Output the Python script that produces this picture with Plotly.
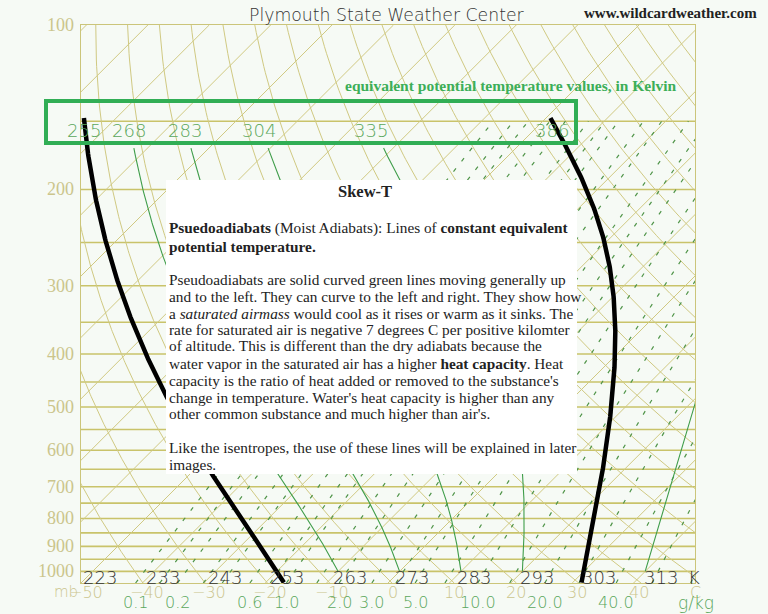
import numpy as np
import plotly.graph_objects as go

# skew-T geometry: x = T(C) + SKEW*log10(1050/p), y = log10(p)
SKEW = 89.0
P_BOT = 1050
P_TOP = 100

isobars = [150, 200, 250, 300, 350, 400, 450, 500, 550, 600, 650, 700,
           750, 800, 850, 900, 950, 1000]
pressure_labels = [100, 200, 300, 400, 500, 600, 700, 800, 900, 1000]
isotherms = [-140, -130, -120, -110, -100, -90, -80, -70, -60, -50, -40,
             -30, -20, -10, 0, 10, 20, 30, 40, 50]
dry_theta = [200, 210, 220, 230, 240, 250, 260, 270, 280, 290, 300, 310,
             320, 330, 340, 350, 360, 370, 380, 390, 400, 410, 420, 430,
             440, 450, 460, 470]
mixing_ratios = [0.1, 0.15, 0.2, 0.3, 0.4, 0.6, 0.8, 1.0, 1.5, 2.0, 3.0,
                 4.0, 5.0, 7.0, 10.0, 14.0, 20.0, 28.0, 40.0, 56.0, 80.0]
mixing_labels = [0.1, 0.2, 0.6, 1.0, 2.0, 3.0, 5.0, 10.0, 20.0, 40.0]
moist_t1000 = [-20, -10, 0, 10, 20, 30, 40]
theta_e_text = ["255", "268", "283", "304", "335", "386"]
black_t1000 = [-20, 30]
celsius_labels = [-50, -40, -30, -20, -10, 0, 10, 20, 30, 40]
kelvin_labels = [223, 233, 243, 253, 263, 273, 283, 293, 303, 313]

box_lines = [
    "<b>Psuedoadiabats</b> (Moist Adiabats): Lines of <b>constant equivalent</b>",
    "<b>potential temperature.</b>",
    "",
    "Pseudoadiabats are solid curved green lines moving generally up",
    "and to the left. They can curve to the left and right. They show how",
    "a <i>saturated airmass</i> would cool as it rises or warm as it sinks. The",
    "rate for saturated air is negative 7 degrees C per positive kilomter",
    "of altitude. This is different than the dry adiabats because the",
    "water vapor in the saturated air has a higher <b>heat capacity</b>. Heat",
    "capacity is the ratio of heat added or removed to the substance's",
    "change in temperature. Water's heat capacity is higher than any",
    "other common substance and much higher than air's.",
    "",
    "Like the isentropes, the use of these lines will be explained in later",
    "images.",
]

BG = "#f6faf5"
TAN = "#d0c982"
ISOBAR_COL = "#c9c36a"
TAN_TXT = "#cbc58c"
GREEN = "#3f9d4a"
GREEN_DASH = "#4f9448"
GREEN_TXT = "#5aa75c"
GREEN_BOX = "#31ae55"


def sx(t, p):
    return t + SKEW * np.log10(P_BOT / np.asarray(p, dtype=float))


def es(tc):
    return 6.112 * np.exp(17.67 * tc / (tc + 243.5))


def dewpoint(e):
    a = np.log(e / 6.112)
    return 243.5 * a / (17.67 - a)


def dtdp(T, p):
    e = es(T - 273.15)
    rs = 0.622 * e / (p - e)
    num = 287.04 * T + 2.501e6 * rs
    den = 1005.7 + 2.501e6 ** 2 * rs * 0.622 / (287.04 * T ** 2)
    return num / den / p


def moist(t1000, p_end):
    ps = list(np.arange(1000.0, p_end - 0.01, -2.0 if p_end < 1000 else 2.0))
    T = t1000 + 273.15
    out = [T]
    for i in range(len(ps) - 1):
        h = ps[i + 1] - ps[i]
        k1 = dtdp(T, ps[i])
        k2 = dtdp(T + h / 2 * k1, ps[i] + h / 2)
        k3 = dtdp(T + h / 2 * k2, ps[i] + h / 2)
        k4 = dtdp(T + h * k3, ps[i] + h)
        T = T + h / 6 * (k1 + 2 * k2 + 2 * k3 + k4)
        out.append(T)
    return np.array(ps), np.array(out) - 273.15


def px_x(px):
    return (px - 81) / 614


def px_y(py):
    return (583 - py) / 558


fig = go.Figure()


def add_family(xs_list, ys_list, color, width, dash="solid"):
    xx, yy = [], []
    for xs, ys in zip(xs_list, ys_list):
        xx += list(xs) + [None]
        yy += list(ys) + [None]
    fig.add_trace(go.Scatter(x=xx, y=yy, mode="lines", hoverinfo="skip",
                             line=dict(color=color, width=width, dash=dash)))


pgrid = np.linspace(P_BOT, P_TOP, 300)

# isobars
add_family([[-200, 200] for p in isobars],
           [[np.log10(p), np.log10(p)] for p in isobars], ISOBAR_COL, 1.6)
# isotherms
add_family([sx(t, [P_BOT, P_TOP]) for t in isotherms],
           [np.log10([P_BOT, P_TOP]) for t in isotherms], TAN, 1)
# dry adiabats
add_family([sx(th * (pgrid / 1000.0) ** 0.2857 - 273.15, pgrid) for th in dry_theta],
           [np.log10(pgrid) for th in dry_theta], TAN, 1)
# mixing ratio lines
pm = np.linspace(P_BOT, 150, 120)
add_family([sx(dewpoint(w / 1000 * pm / (0.622 + w / 1000)), pm) for w in mixing_ratios],
           [np.log10(pm) for w in mixing_ratios], GREEN_DASH, 1.2, "4px,9px")

# pseudo-adiabats (green)
mx, my = [], []
for t0 in moist_t1000:
    ps, ts = moist(t0, 167)
    mx.append(sx(ts, ps))
    my.append(np.log10(ps))
add_family(mx, my, GREEN, 1.1)

# highlighted pseudo-adiabats (black)
for t0 in black_t1000:
    ps_up, ts_up = moist(t0, 148)
    ps_dn, ts_dn = moist(t0, 1050)
    ps = np.concatenate([ps_dn[::-1], ps_up[1:]])
    ts = np.concatenate([ts_dn[::-1], ts_up[1:]])
    fig.add_trace(go.Scatter(x=sx(ts, ps), y=np.log10(ps), mode="lines",
                             hoverinfo="skip", line=dict(color="black", width=4.5)))

ann = []
LIGHT = dict(family="DejaVu Sans", weight=200)

# pressure labels
for p in pressure_labels:
    ann.append(dict(xref="paper", yref="y", x=px_x(76), y=np.log10(p), text=str(p),
                    xanchor="right", yanchor="middle", showarrow=False,
                    font=dict(family="Liberation Sans Narrow", size=18, color=TAN_TXT)))
ann.append(dict(xref="paper", yref="paper", x=px_x(52), y=px_y(592), text="mb",
                xanchor="left", yanchor="middle", showarrow=False,
                font=dict(size=15, color=TAN_TXT, **LIGHT)))
# celsius labels
for t in celsius_labels:
    ann.append(dict(xref="x", yref="paper", x=t, y=px_y(592), xshift=5,
                    text=str(t).replace("-", "\u2212"), xanchor="center", yanchor="middle",
                    showarrow=False, font=dict(size=16, color=TAN_TXT, **LIGHT)))
ann.append(dict(xref="paper", yref="paper", x=px_x(695), y=px_y(592), text="C",
                xanchor="center", yanchor="middle", showarrow=False,
                font=dict(size=16, color=TAN_TXT, **LIGHT)))
# kelvin labels at the 1000 mb ends
for t, k in zip(celsius_labels, kelvin_labels):
    ann.append(dict(xref="x", yref="paper", x=sx(t, 1000), y=px_y(577),
                    xshift=-3 - 0.9 * (313 - k) / 10,
                    text=str(k), xanchor="left", yanchor="middle", showarrow=False,
                    font=dict(size=18, color="#333333", **LIGHT)))
ann.append(dict(xref="paper", yref="paper", x=px_x(694), y=px_y(577), text="K",
                xanchor="center", yanchor="middle", showarrow=False,
                font=dict(size=18, color="#333333", **LIGHT)))
# mixing ratio labels
for w in mixing_labels:
    e = w / 1000 * P_BOT / (0.622 + w / 1000)
    ann.append(dict(xref="x", yref="paper", x=sx(dewpoint(e), P_BOT), y=px_y(603),
                    text="%.1f" % w, xanchor="center", yanchor="middle", showarrow=False,
                    font=dict(size=16, color=GREEN_TXT, **LIGHT)))
ann.append(dict(xref="paper", yref="paper", x=px_x(696), y=px_y(603), text="g/kg",
                xanchor="center", yanchor="middle", showarrow=False,
                font=dict(size=17, color=GREEN_TXT, **LIGHT)))
# theta-e labels
for t0, txt in zip(moist_t1000, theta_e_text):
    ps, ts = moist(t0, 150)
    ann.append(dict(xref="x", yref="paper", x=sx(ts[-1], ps[-1]), y=px_y(130),
                    text=txt, xanchor="center", yanchor="middle", showarrow=False,
                    font=dict(size=18, color=GREEN_TXT, **LIGHT)))

# titles
ann.append(dict(xref="paper", yref="paper", x=px_x(387), y=px_y(15),
                text="Plymouth State Weather Center", xanchor="center", yanchor="middle",
                showarrow=False, font=dict(size=17.3, color="#333333", **LIGHT)))
ann.append(dict(xref="paper", yref="paper", x=px_x(670), y=px_y(13),
                text="<b>www.wildcardweather.com</b>", xanchor="center", yanchor="middle",
                showarrow=False, font=dict(family="Liberation Serif", size=15, color="#222222")))
ann.append(dict(xref="paper", yref="paper", x=px_x(511), y=px_y(85),
                text="<b>equivalent potential temperature values, in Kelvin</b>",
                xanchor="center", yanchor="middle", showarrow=False,
                font=dict(family="Liberation Serif", size=15.5, color="#3cae58")))

# text box
ann.append(dict(xref="paper", yref="paper", x=px_x(365), y=px_y(191), text="<b>Skew-T</b>",
                xanchor="center", yanchor="middle", showarrow=False,
                font=dict(family="Liberation Serif", size=16.5, color="#222222")))
line_y = [228, 246, 262, 279, 296, 313, 329, 346, 363, 380, 397, 413, 430, 447, 464]
for yy, txt in zip(line_y, box_lines):
    if txt:
        ann.append(dict(xref="paper", yref="paper", x=px_x(167), y=px_y(yy), text=txt,
                        xanchor="left", yanchor="middle", showarrow=False,
                        font=dict(family="Liberation Serif", size=15.3, color="#222222")))

shapes = [
    dict(type="rect", xref="paper", yref="paper", x0=px_x(166), x1=px_x(577),
         y0=px_y(474), y1=px_y(180), fillcolor="white", line=dict(width=0), layer="above"),
    dict(type="rect", xref="paper", yref="paper", x0=px_x(46), x1=px_x(576),
         y0=px_y(143), y1=px_y(101), line=dict(color=GREEN_BOX, width=4), layer="above"),
]

fig.update_layout(
    width=768, height=614,
    margin=dict(l=81, r=73, t=25, b=31),
    paper_bgcolor=BG, plot_bgcolor=BG,
    showlegend=False,
    xaxis=dict(range=[-50, 50], showgrid=False, zeroline=False, showticklabels=False,
               ticks="", showline=True, mirror=True, linecolor="#cbc57a", linewidth=1),
    yaxis=dict(range=[np.log10(P_BOT), np.log10(P_TOP)], showgrid=False, zeroline=False,
               showticklabels=False, ticks="", showline=True, mirror=True,
               linecolor="#cbc57a", linewidth=1),
    annotations=ann,
    shapes=shapes,
)

fig.write_html("out.html", config={"displayModeBar": False},
               post_script="document.body.style.margin='0px';")
